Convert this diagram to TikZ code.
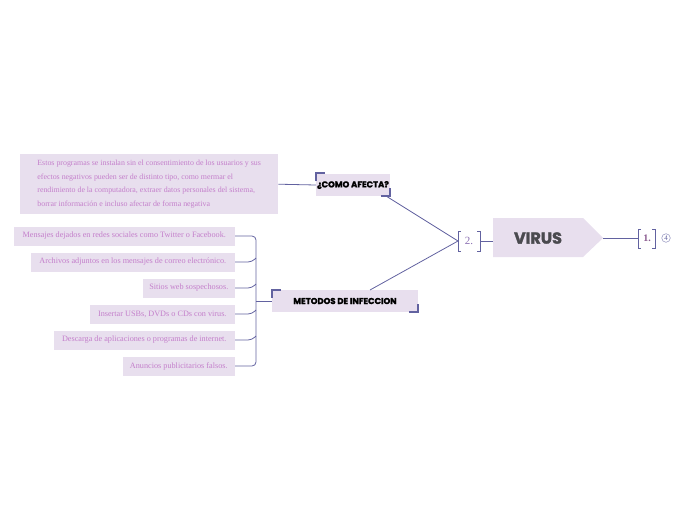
\documentclass[tikz,border=0pt]{standalone}
\usepackage{fontspec}
\setmainfont{Liberation Serif}
\newfontfamily\headfont[FakeBold=2]{Poppins}
\definecolor{boxbg}{HTML}{E8DFEE}
\definecolor{txt}{HTML}{C47FCB}
\definecolor{ln}{HTML}{6262A0}
\definecolor{dk}{HTML}{4A4A4F}
\tikzset{
 item/.style={fill=boxbg,text=txt,font=\fontsize{8.2}{9}\selectfont,anchor=east,minimum height=19pt,inner xsep=3pt},
 head/.style={fill=boxbg,font=\headfont\bfseries\fontsize{8.5}{9}\selectfont,text=black,inner sep=0pt},
 conn/.style={draw=ln,line width=0.8pt},
 brk/.style={draw=ln,line width=1.6pt}
}
\begin{document}
\begin{tikzpicture}[x=1pt,y=-1pt]
\useasboundingbox (0,0) rectangle (696,520);
% description
\node[fill=boxbg,text=txt,anchor=north west,minimum width=258pt,minimum height=60pt,align=left,font=\fontsize{7.9}{13.5}\selectfont,inner xsep=6pt,inner ysep=3pt] (desc) at (20,154)
{Estos programas se instalan sin el consentimiento de los usuarios y sus\\ efectos negativos pueden ser de distinto tipo, como mermar el\\ rendimiento de la computadora, extraer datos personales del sistema,\\ borrar información e incluso afectar de forma negativa};
% COMO AFECTA
\node[head,minimum width=74pt,minimum height=22pt] (como) at (353,185) {¿COMO AFECTA?};
\draw[brk] (316,181) |- (325,173);
\draw[brk] (390,188) |- (381,196);
\draw[conn] (desc.east) -- (como.west);
% METODOS
\node[head,minimum width=146pt,minimum height=22pt] (met) at (345,301) {METODOS DE INFECCION};
\draw[brk] (272,298) |- (281,290);
\draw[brk] (418,304) |- (409,312);
% 2.
\node[text=ln!60!txt,font=\fontsize{11}{12}\selectfont] (two) at (469,241) {2.};
\draw[conn,line width=1pt] (461,231) -- (458,231) -- (458,251) -- (461,251);
\draw[conn,line width=1pt] (477,231) -- (480,231) -- (480,251) -- (477,251);
\coordinate (twoL) at (458,241);
\coordinate (twoR) at (480,241);
\draw[conn] (386,196) -- (twoL);
\draw[conn] (370,290) -- (twoL);
% VIRUS
\fill[boxbg] (493,218) -- (583,218) -- (603,238) -- (583,257) -- (493,257) -- cycle;
\node[font=\headfont\bfseries\fontsize{16}{17}\selectfont,text=dk] (virus) at (538,238) {VIRUS};
\draw[conn] (twoR) -- (493,241);
% 1.
\coordinate (vtip) at (603,238);
\node[text=txt!70!black,font=\bfseries\fontsize{10}{11}\selectfont] (one) at (647,238) {1.};
\draw[conn,line width=1pt] (641,229) -- (638,229) -- (638,248) -- (641,248);
\draw[conn,line width=1pt] (652,229) -- (655,229) -- (655,248) -- (652,248);
\draw[conn] (vtip) -- (638,238);
\node[circle,draw=ln!70,line width=0.5pt,inner sep=1pt,text=ln,font=\fontsize{7}{7}\selectfont] (four) at (666,238) {4};
% items
\node[item,minimum width=221pt] (i1) at (235,236) {Mensajes dejados en redes sociales como Twitter o Facebook.};
\node[item,minimum width=204pt] (i2) at (235,262) {Archivos adjuntos en los mensajes de correo electrónico.};
\node[item,minimum width=92pt] (i3) at (235,288) {Sitios web sospechosos.};
\node[item,minimum width=145pt] (i4) at (235,314) {Insertar USBs, DVDs o CDs con virus.};
\node[item,minimum width=181pt] (i5) at (235,340) {Descarga de aplicaciones o programas de internet.};
\node[item,minimum width=112pt] (i6) at (235,366) {Anuncios publicitarios falsos.};
\draw[conn,rounded corners=4pt] (i1.east) -- (256,236) -- (256,366) -- (i6.east);
\foreach \n/\y in {i2/262,i3/288,i4/314,i5/340}
 \draw[conn,rounded corners=4pt] (\n.east) -- (252,\y) -- (256,\y-4);
\draw[conn] (256,301) -- (met.west);
\end{tikzpicture}
\end{document}
